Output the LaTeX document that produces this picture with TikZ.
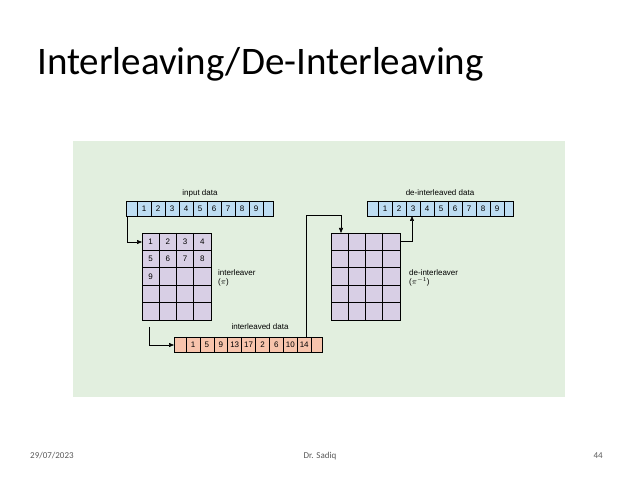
\documentclass[tikz,border=0pt]{standalone}
\usepackage{fontspec}
\setmainfont{Carlito}
\newfontfamily\arial{Liberation Sans}
\usetikzlibrary{arrows.meta}
\definecolor{bg}{HTML}{E2EFDF}
\definecolor{barblue}{HTML}{BEDDF2}
\definecolor{barpink}{HTML}{F7C4AC}
\definecolor{lav}{HTML}{D8CFE5}
\definecolor{gr}{HTML}{595959}
\tikzset{x=1pt,y=-1pt,
  cell/.style={draw=black,line width=0.6pt},
  lbl/.style={font=\arial\fontsize{8}{9.5}\selectfont,inner sep=0pt},
  conn/.style={draw=black,line width=0.6pt},
  tip/.style={-{Triangle[length=5pt,width=4pt]}}}
\begin{document}
\begin{tikzpicture}
\useasboundingbox (0,0) rectangle (638,478);
\node[anchor=base west,inner sep=0pt,font=\fontsize{39}{44}\selectfont] (title) at (37,75) {Interleaving/De-Interleaving};
\fill[bg] (73,141) rectangle (565,397);
% input bar
\filldraw[barblue,cell] (126,201) rectangle (273,216);
\foreach \i/\t in {0/1,1/2,2/3,3/4,4/5,5/6,6/7,7/8,8/9}{
  \draw[cell] ({137+14*\i},201) -- ({137+14*\i},216);
  \node[lbl] (in\t) at ({144+14*\i},208.5) {\t};}
\draw[cell] (263,201) -- (263,216);
\node[lbl] (inlab) at (200,193) {input data};
% interleaver
\filldraw[lav,cell] (142,233) rectangle (211,320);
\foreach \c in {1,2,3}{\draw[cell] ({142+17.25*\c},233) -- ({142+17.25*\c},320);}
\foreach \r in {1,...,4}{\draw[cell] (142,{233+17.4*\r}) -- (211,{233+17.4*\r});}
\foreach \t [count=\k from 0] in {1,2,3,4,5,6,7,8,9}{
  \pgfmathsetmacro\cc{mod(\k,4)}\pgfmathsetmacro\rr{int(\k/4)}
  \node[lbl] (m\t) at ({150.6+17.25*\cc},{241.7+17.4*\rr}) {\t};}
\node[lbl,anchor=west,align=left] (ilab) at (218,278) {interleaver\\($\pi$)};
\coordinate (ilin) at (142,242);
% interleaved bar
\filldraw[barpink,cell] (174,337) rectangle (322,352);
\foreach \t [count=\k from 0] in {1,5,9,13,17,2,6,10,14}{
  \draw[cell] ({186+13.9*\k},337) -- ({186+13.9*\k},352);
  \node[lbl] (iv\t) at ({193+13.9*\k},344.5) {\t};}
\draw[cell] (311,337) -- (311,352);
\node[lbl] (ivlab) at (260,327) {interleaved data};
% de-interleaver
\filldraw[lav,cell] (331,233) rectangle (400,320);
\foreach \c in {1,2,3}{\draw[cell] ({331+17.25*\c},233) -- ({331+17.25*\c},320);}
\foreach \r in {1,...,4}{\draw[cell] (331,{233+17.4*\r}) -- (400,{233+17.4*\r});}
\node[lbl,anchor=west,align=left] (dlab) at (409,278) {de-interleaver\\($\pi^{-1}$)};
% de-interleaved bar
\filldraw[barblue,cell] (367,201) rectangle (513,216);
\foreach \i/\t in {0/1,1/2,2/3,3/4,4/5,5/6,6/7,7/8,8/9}{
  \draw[cell] ({378+14*\i},201) -- ({378+14*\i},216);
  \node[lbl] (out\t) at ({385+14*\i},208.5) {\t};}
\draw[cell] (504,201) -- (504,216);
\node[lbl] (olab) at (440,193) {de-interleaved data};
% connectors
\coordinate (a0) at (127,217);
\draw[conn,tip] (a0) |- (ilin);
\coordinate (b0) at (149,327);
\coordinate (b1) at (174,345);
\draw[conn,tip] (b0) |- (b1);
\coordinate (c0) at (306,337);
\coordinate (c1) at (306,215);
\coordinate (c2) at (341,233);
\draw[conn,tip] (c0) -- (c1) -| (c2);
\coordinate (d0) at (400,241);
\coordinate (d1) at (412,216);
\draw[conn,tip] (d0) -| (d1);
% footer
\node[anchor=base west,inner sep=0pt,text=gr,font=\fontsize{9}{10}\selectfont] (date) at (30,459) {29/07/2023};
\node[anchor=base,inner sep=0pt,text=gr,font=\fontsize{9}{10}\selectfont] (auth) at (320,459) {Dr. Sadiq};
\node[anchor=base east,inner sep=0pt,text=gr,font=\fontsize{9}{10}\selectfont] (pg) at (603,459) {44};
\end{tikzpicture}
\end{document}
